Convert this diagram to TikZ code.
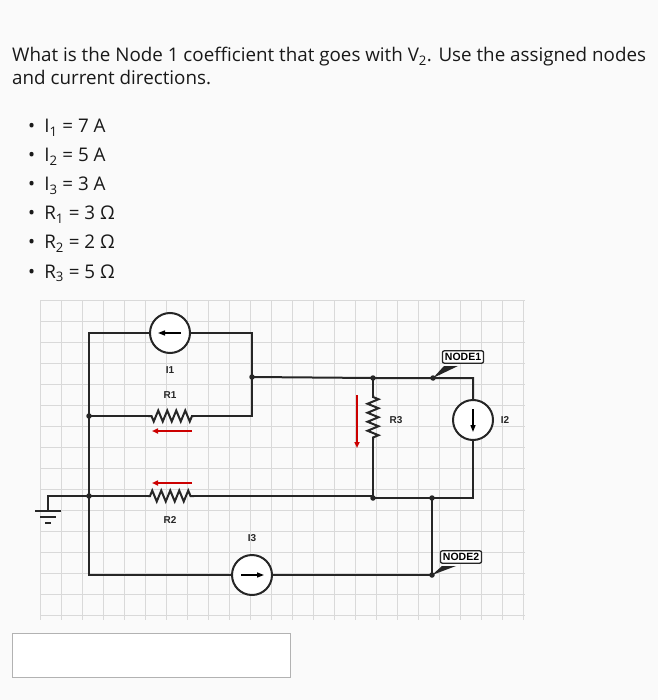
\documentclass[tikz,border=0pt]{standalone}
\usepackage{fontspec}
\setmainfont{Open Sans}
\newfontfamily\lblfont{Liberation Sans}
\usetikzlibrary{decorations.pathmorphing,arrows.meta}
\begin{document}
\begin{tikzpicture}[x=1pt,y=-1pt,
 wire/.style={line width=2pt,draw=black!85},
 src/.style={circle,draw=black!85,line width=2pt,minimum size=40pt,inner sep=0pt,fill=white},
 lbl/.style={font=\lblfont\bfseries\fontsize{10}{10}\selectfont,text=black!85},
 tag/.style={draw=black!85,line width=1.3pt,rounded corners=2pt,fill=white,font=\lblfont\bfseries\fontsize{10.5}{10.5}\selectfont,inner sep=2.5pt},
 res/.style={wire,decorate,decoration={zigzag,segment length=9pt,amplitude=5.5pt,pre length=2pt,post length=2pt}},
 red/.style={draw=red!80!black,line width=2pt,-{Triangle[length=6pt,width=5pt]}},
 dot/.style={circle,fill=black!85,inner sep=0pt,minimum size=5.5pt},
 txt/.style={font=\fontsize{18.8}{23}\selectfont,anchor=base west,inner sep=0pt,text=black!90}]
\useasboundingbox (0,0) rectangle (658,700);
\fill[black!2] (0,0) rectangle (658,700);
% grid
\foreach \i in {0,...,23} \draw[black!15,line width=0.8pt] ({40+21*\i},300) -- ({40+21*\i},620);
\foreach \j in {0,...,15} \draw[black!15,line width=0.8pt] (40,{300+21*\j}) -- (525,{300+21*\j});
% text
\node[txt] (q1) at (12,62) {What is the Node 1 coefficient that goes with V\textsubscript{2}. Use the assigned nodes};
\node[txt] (q2) at (12,85) {and current directions.};
\foreach \t [count=\i] in {I\textsubscript{1} = 7 A, I\textsubscript{2} = 5 A, I\textsubscript{3} = 3 A, R\textsubscript{1} = 3 Ω, R\textsubscript{2} = 2 Ω, R\textsubscript{3} = 5 Ω}
  \node[txt] (b\i) at (28,{133+(\i-1)*29}) {•\hspace{9pt}\t};
% nodes
\node[src] (I1) at (170,333) {};
\node[src] (I2) at (473,420) {};
\node[src] (I3) at (252,575) {};
\draw[-{Triangle[length=7pt,width=5pt]},line width=1.3pt] (181,333) -- (158,333);
\draw[-{Triangle[length=7pt,width=5pt]},line width=1.3pt] (473,409) -- (473,432);
\draw[-{Triangle[length=7pt,width=5pt]},line width=1.3pt] (241,575) -- (264,575);
\coordinate (TL) at (89,333); \coordinate (TR) at (252,333);
\node[dot] (J1) at (252,377) {};
\coordinate (R1R) at (252,416);
\node[dot] (JL1) at (89,416) {};
\node[dot] (JL2) at (89,496) {};
\coordinate (BL) at (89,575);
\node[dot] (J3T) at (373,378) {};
\node[dot] (N1) at (433,378) {};
\coordinate (I2T) at (473,378);
\node[dot] (J3B) at (373,498) {};
\node[dot] (N2T) at (432,498) {};
\coordinate (I2B) at (473,498);
\node[dot] (N2) at (432,575) {};
\draw[wire] (I1) -- (TL) -- (BL) -- (I3) -- (N2.center) -- (N2T.center);
\draw[wire] (I1) -- (TR) -- (R1R) -- (194,416);
\draw[res] (194,416) -- (148,416);
\draw[wire] (148,416) -- (JL1.center);
\draw[wire] (JL2.center) -- (148,496);
\draw[res] (148,496) -- (194,496);
\draw[wire] (194,496) -- (373,496) -- (J3B.center) -- (I2B) -- (I2);
\draw[wire] (J1.center) -- (J3T.center) -- (I2T) -- (I2);
\draw[wire] (J3T.center) -- (373,395);
\draw[res] (373,395) -- (373,440);
\draw[wire] (373,440) -- (J3B.center);
% ground
\draw[wire] (JL2.center) -- (48,496) -- (48,511);
\draw[line width=1.6pt,black!85] (35,511) -- (61,511) (40,517) -- (56,517) (45,523) -- (51,523);
% red arrows
\draw[red] (192,431) -- (152,431);
\draw[red] (192,483) -- (152,483);
\draw[red] (357,395) -- (357,448);
% labels
\node[lbl] (l1) at (170,370) {I1};
\node[lbl] (l2) at (170,395) {R1};
\node[lbl] (l3) at (170,520) {R2};
\node[lbl] (l4) at (252,538) {I3};
\node[lbl] (l5) at (396,420) {R3};
\node[lbl] (l6) at (505,420) {I2};
\node[tag] (t1) at (463,357) {NODE1};
\node[tag] (t2) at (461,557) {NODE2};
\fill[black!85] (N1.center) -- (444,366) -- (458,366) -- cycle;
\fill[black!85] (N2.center) -- (442,566) -- (456,566) -- cycle;
% answer box
\draw[black!30,line width=1pt,fill=white] (12,633) rectangle (290,677);
\end{tikzpicture}
\end{document}
